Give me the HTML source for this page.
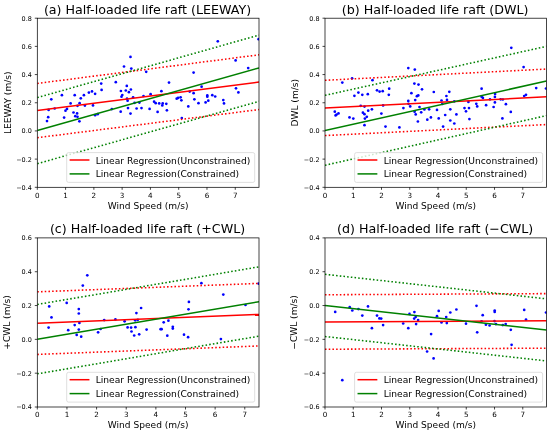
<!DOCTYPE html>
<html lang="en"><head><meta charset="utf-8"><title>Half-loaded life raft leeway regression</title>
<style>html,body{margin:0;padding:0;background:#fff;}svg{display:block;}text{font-family:"DejaVu Sans","Liberation Sans",sans-serif;fill:#000;}</style></head><body>
<svg width="550" height="432" viewBox="0 0 550 432">
<rect x="0" y="0" width="550" height="432" fill="#ffffff"/>
<g id="panel-a">
<clipPath id="clipa"><rect x="37.3" y="18.2" width="221.7" height="169.1"/></clipPath>
<g clip-path="url(#clipa)" fill="#0000ff">
<circle cx="130.5" cy="56.9" r="1.35"/>
<circle cx="124.0" cy="66.5" r="1.35"/>
<circle cx="131.3" cy="68.6" r="1.35"/>
<circle cx="146.2" cy="71.8" r="1.35"/>
<circle cx="101.2" cy="83.6" r="1.35"/>
<circle cx="115.8" cy="82.2" r="1.35"/>
<circle cx="126.8" cy="85.9" r="1.35"/>
<circle cx="101.6" cy="89.9" r="1.35"/>
<circle cx="120.9" cy="91.0" r="1.35"/>
<circle cx="125.8" cy="90.5" r="1.35"/>
<circle cx="130.9" cy="89.5" r="1.35"/>
<circle cx="128.9" cy="92.2" r="1.35"/>
<circle cx="92.0" cy="91.4" r="1.35"/>
<circle cx="88.9" cy="92.6" r="1.35"/>
<circle cx="95.1" cy="93.8" r="1.35"/>
<circle cx="83.9" cy="95.2" r="1.35"/>
<circle cx="74.7" cy="95.2" r="1.35"/>
<circle cx="61.9" cy="95.2" r="1.35"/>
<circle cx="80.8" cy="98.3" r="1.35"/>
<circle cx="51.3" cy="99.3" r="1.35"/>
<circle cx="122.3" cy="95.0" r="1.35"/>
<circle cx="121.5" cy="96.7" r="1.35"/>
<circle cx="133.1" cy="97.3" r="1.35"/>
<circle cx="143.5" cy="96.0" r="1.35"/>
<circle cx="127.0" cy="98.7" r="1.35"/>
<circle cx="127.6" cy="100.7" r="1.35"/>
<circle cx="70.6" cy="103.4" r="1.35"/>
<circle cx="79.6" cy="103.2" r="1.35"/>
<circle cx="139.4" cy="102.6" r="1.35"/>
<circle cx="134.6" cy="102.8" r="1.35"/>
<circle cx="77.5" cy="105.8" r="1.35"/>
<circle cx="84.9" cy="105.6" r="1.35"/>
<circle cx="93.0" cy="105.4" r="1.35"/>
<circle cx="54.7" cy="108.5" r="1.35"/>
<circle cx="48.6" cy="109.9" r="1.35"/>
<circle cx="67.0" cy="108.9" r="1.35"/>
<circle cx="65.5" cy="110.7" r="1.35"/>
<circle cx="128.0" cy="108.1" r="1.35"/>
<circle cx="136.6" cy="108.5" r="1.35"/>
<circle cx="141.5" cy="108.1" r="1.35"/>
<circle cx="111.8" cy="109.1" r="1.35"/>
<circle cx="120.7" cy="111.7" r="1.35"/>
<circle cx="73.5" cy="112.5" r="1.35"/>
<circle cx="77.1" cy="113.4" r="1.35"/>
<circle cx="130.5" cy="113.6" r="1.35"/>
<circle cx="95.1" cy="115.2" r="1.35"/>
<circle cx="97.7" cy="114.2" r="1.35"/>
<circle cx="75.3" cy="116.2" r="1.35"/>
<circle cx="77.5" cy="116.8" r="1.35"/>
<circle cx="64.1" cy="117.6" r="1.35"/>
<circle cx="48.2" cy="117.2" r="1.35"/>
<circle cx="47.0" cy="121.1" r="1.35"/>
<circle cx="79.4" cy="121.3" r="1.35"/>
<circle cx="217.8" cy="41.3" r="1.35"/>
<circle cx="258.6" cy="39.2" r="1.35"/>
<circle cx="235.6" cy="60.4" r="1.35"/>
<circle cx="248.2" cy="68.1" r="1.35"/>
<circle cx="193.6" cy="72.6" r="1.35"/>
<circle cx="169.0" cy="82.6" r="1.35"/>
<circle cx="201.6" cy="86.7" r="1.35"/>
<circle cx="236.0" cy="88.3" r="1.35"/>
<circle cx="238.4" cy="92.4" r="1.35"/>
<circle cx="161.4" cy="91.2" r="1.35"/>
<circle cx="150.6" cy="94.2" r="1.35"/>
<circle cx="189.7" cy="91.6" r="1.35"/>
<circle cx="193.6" cy="93.2" r="1.35"/>
<circle cx="207.3" cy="95.4" r="1.35"/>
<circle cx="207.3" cy="96.7" r="1.35"/>
<circle cx="212.3" cy="95.2" r="1.35"/>
<circle cx="215.2" cy="96.5" r="1.35"/>
<circle cx="180.6" cy="97.3" r="1.35"/>
<circle cx="178.1" cy="97.9" r="1.35"/>
<circle cx="176.7" cy="98.7" r="1.35"/>
<circle cx="181.4" cy="100.3" r="1.35"/>
<circle cx="194.4" cy="99.3" r="1.35"/>
<circle cx="223.3" cy="100.1" r="1.35"/>
<circle cx="224.0" cy="103.4" r="1.35"/>
<circle cx="208.3" cy="100.7" r="1.35"/>
<circle cx="205.6" cy="102.4" r="1.35"/>
<circle cx="198.5" cy="103.2" r="1.35"/>
<circle cx="154.1" cy="101.7" r="1.35"/>
<circle cx="155.7" cy="103.2" r="1.35"/>
<circle cx="159.2" cy="103.4" r="1.35"/>
<circle cx="162.7" cy="103.4" r="1.35"/>
<circle cx="166.3" cy="103.8" r="1.35"/>
<circle cx="162.3" cy="105.4" r="1.35"/>
<circle cx="188.3" cy="106.4" r="1.35"/>
<circle cx="149.6" cy="108.9" r="1.35"/>
<circle cx="166.9" cy="110.3" r="1.35"/>
<circle cx="157.6" cy="111.9" r="1.35"/>
<circle cx="181.8" cy="118.0" r="1.35"/>
</g>
<g clip-path="url(#clipa)" fill="none">
<line x1="37.30" y1="110.55" x2="259.00" y2="82.05" stroke="#ff0000" stroke-width="1.50"/>
<line x1="37.30" y1="130.50" x2="259.00" y2="67.85" stroke="#008000" stroke-width="1.50"/>
<line x1="37.30" y1="83.45" x2="259.00" y2="54.80" stroke="#ff0000" stroke-width="1.55" stroke-dasharray="1.55 2.16"/>
<line x1="37.30" y1="137.70" x2="259.00" y2="109.55" stroke="#ff0000" stroke-width="1.55" stroke-dasharray="1.55 2.16"/>
<line x1="37.30" y1="97.60" x2="259.00" y2="35.15" stroke="#008000" stroke-width="1.55" stroke-dasharray="1.55 2.16"/>
<line x1="37.30" y1="163.65" x2="259.00" y2="101.30" stroke="#008000" stroke-width="1.55" stroke-dasharray="1.55 2.16"/>
</g>
<rect x="37.30" y="18.20" width="221.70" height="169.10" fill="none" stroke="#000" stroke-width="0.73"/>
<g stroke="#000" stroke-width="0.73">
<line x1="37.30" y1="187.30" x2="37.30" y2="189.80"/>
<line x1="65.58" y1="187.30" x2="65.58" y2="189.80"/>
<line x1="93.86" y1="187.30" x2="93.86" y2="189.80"/>
<line x1="122.13" y1="187.30" x2="122.13" y2="189.80"/>
<line x1="150.41" y1="187.30" x2="150.41" y2="189.80"/>
<line x1="178.69" y1="187.30" x2="178.69" y2="189.80"/>
<line x1="206.97" y1="187.30" x2="206.97" y2="189.80"/>
<line x1="235.25" y1="187.30" x2="235.25" y2="189.80"/>
<line x1="34.80" y1="187.30" x2="37.30" y2="187.30"/>
<line x1="34.80" y1="159.12" x2="37.30" y2="159.12"/>
<line x1="34.80" y1="130.93" x2="37.30" y2="130.93"/>
<line x1="34.80" y1="102.75" x2="37.30" y2="102.75"/>
<line x1="34.80" y1="74.57" x2="37.30" y2="74.57"/>
<line x1="34.80" y1="46.38" x2="37.30" y2="46.38"/>
<line x1="34.80" y1="18.20" x2="37.30" y2="18.20"/>
</g>
<g font-size="6.45">
<text x="37.30" y="197.60" text-anchor="middle" font-size="7.2">0</text>
<text x="65.58" y="197.60" text-anchor="middle" font-size="7.2">1</text>
<text x="93.86" y="197.60" text-anchor="middle" font-size="7.2">2</text>
<text x="122.13" y="197.60" text-anchor="middle" font-size="7.2">3</text>
<text x="150.41" y="197.60" text-anchor="middle" font-size="7.2">4</text>
<text x="178.69" y="197.60" text-anchor="middle" font-size="7.2">5</text>
<text x="206.97" y="197.60" text-anchor="middle" font-size="7.2">6</text>
<text x="235.25" y="197.60" text-anchor="middle" font-size="7.2">7</text>
<text x="31.80" y="189.69" text-anchor="end">−0.4</text>
<text x="31.80" y="161.50" text-anchor="end">−0.2</text>
<text x="31.80" y="133.32" text-anchor="end">0.0</text>
<text x="31.80" y="105.14" text-anchor="end">0.2</text>
<text x="31.80" y="76.95" text-anchor="end">0.4</text>
<text x="31.80" y="48.77" text-anchor="end">0.6</text>
<text x="31.80" y="20.59" text-anchor="end">0.8</text>
</g>
<text x="147.55" y="13.70" text-anchor="middle" font-size="12.66">(a) Half-loaded life raft (LEEWAY)</text>
<text x="148.15" y="208.60" text-anchor="middle" font-size="9.07">Wind Speed (m/s)</text>
<text transform="translate(10.80 102.75) rotate(-90)" text-anchor="middle" font-size="9.07">LEEWAY (m/s)</text>
<rect x="66.70" y="152.60" width="188.00" height="29.80" rx="1.83" ry="1.83" fill="#ffffff" fill-opacity="0.8" stroke="#d4d4d4" stroke-opacity="0.8" stroke-width="0.92"/>
<line x1="70.37" y1="160.00" x2="88.70" y2="160.00" stroke="#ff0000" stroke-width="1.50" stroke-linecap="square"/>
<line x1="70.37" y1="173.90" x2="88.70" y2="173.90" stroke="#008000" stroke-width="1.50" stroke-linecap="square"/>
<text x="95.73" y="163.50" font-size="9.14">Linear Regression(Unconstrained)</text>
<text x="95.73" y="177.00" font-size="9.14">Linear Regression(Constrained)</text>
</g>
<g id="panel-b">
<clipPath id="clipb"><rect x="325" y="18.2" width="221.5" height="169.1"/></clipPath>
<g clip-path="url(#clipb)" fill="#0000ff">
<circle cx="408.3" cy="68.1" r="1.35"/>
<circle cx="414.8" cy="69.6" r="1.35"/>
<circle cx="352.1" cy="78.3" r="1.35"/>
<circle cx="342.3" cy="82.6" r="1.35"/>
<circle cx="372.5" cy="80.2" r="1.35"/>
<circle cx="414.4" cy="83.6" r="1.35"/>
<circle cx="418.5" cy="84.6" r="1.35"/>
<circle cx="422.0" cy="89.3" r="1.35"/>
<circle cx="389.2" cy="88.7" r="1.35"/>
<circle cx="377.0" cy="90.3" r="1.35"/>
<circle cx="379.6" cy="91.6" r="1.35"/>
<circle cx="382.7" cy="91.2" r="1.35"/>
<circle cx="358.4" cy="92.6" r="1.35"/>
<circle cx="362.3" cy="94.8" r="1.35"/>
<circle cx="367.8" cy="94.2" r="1.35"/>
<circle cx="354.4" cy="95.8" r="1.35"/>
<circle cx="388.8" cy="94.8" r="1.35"/>
<circle cx="411.4" cy="93.2" r="1.35"/>
<circle cx="418.3" cy="95.4" r="1.35"/>
<circle cx="416.9" cy="96.2" r="1.35"/>
<circle cx="433.8" cy="92.0" r="1.35"/>
<circle cx="415.2" cy="100.1" r="1.35"/>
<circle cx="408.3" cy="100.9" r="1.35"/>
<circle cx="408.5" cy="103.8" r="1.35"/>
<circle cx="360.7" cy="105.8" r="1.35"/>
<circle cx="364.5" cy="106.6" r="1.35"/>
<circle cx="383.1" cy="105.4" r="1.35"/>
<circle cx="410.2" cy="106.4" r="1.35"/>
<circle cx="419.5" cy="107.0" r="1.35"/>
<circle cx="403.4" cy="108.1" r="1.35"/>
<circle cx="371.9" cy="109.3" r="1.35"/>
<circle cx="368.2" cy="110.7" r="1.35"/>
<circle cx="424.4" cy="109.5" r="1.35"/>
<circle cx="429.1" cy="109.3" r="1.35"/>
<circle cx="334.8" cy="111.7" r="1.35"/>
<circle cx="338.5" cy="113.4" r="1.35"/>
<circle cx="335.6" cy="115.4" r="1.35"/>
<circle cx="336.6" cy="114.6" r="1.35"/>
<circle cx="362.9" cy="112.7" r="1.35"/>
<circle cx="364.5" cy="114.2" r="1.35"/>
<circle cx="381.4" cy="113.6" r="1.35"/>
<circle cx="414.6" cy="111.7" r="1.35"/>
<circle cx="415.7" cy="114.4" r="1.35"/>
<circle cx="421.2" cy="112.3" r="1.35"/>
<circle cx="349.5" cy="117.4" r="1.35"/>
<circle cx="353.3" cy="118.6" r="1.35"/>
<circle cx="366.8" cy="116.8" r="1.35"/>
<circle cx="364.9" cy="118.6" r="1.35"/>
<circle cx="430.9" cy="117.4" r="1.35"/>
<circle cx="427.3" cy="119.7" r="1.35"/>
<circle cx="417.9" cy="121.5" r="1.35"/>
<circle cx="364.5" cy="125.2" r="1.35"/>
<circle cx="385.5" cy="126.6" r="1.35"/>
<circle cx="399.4" cy="127.4" r="1.35"/>
<circle cx="523.6" cy="67.1" r="1.35"/>
<circle cx="481.6" cy="88.7" r="1.35"/>
<circle cx="449.3" cy="91.8" r="1.35"/>
<circle cx="536.2" cy="88.1" r="1.35"/>
<circle cx="546.0" cy="88.5" r="1.35"/>
<circle cx="524.2" cy="96.0" r="1.35"/>
<circle cx="526.0" cy="94.8" r="1.35"/>
<circle cx="446.4" cy="96.0" r="1.35"/>
<circle cx="495.1" cy="94.0" r="1.35"/>
<circle cx="494.9" cy="96.9" r="1.35"/>
<circle cx="481.6" cy="96.7" r="1.35"/>
<circle cx="482.9" cy="97.9" r="1.35"/>
<circle cx="441.5" cy="100.5" r="1.35"/>
<circle cx="447.0" cy="99.9" r="1.35"/>
<circle cx="490.0" cy="99.3" r="1.35"/>
<circle cx="500.6" cy="99.3" r="1.35"/>
<circle cx="502.8" cy="99.5" r="1.35"/>
<circle cx="454.3" cy="101.3" r="1.35"/>
<circle cx="468.4" cy="101.9" r="1.35"/>
<circle cx="442.3" cy="104.0" r="1.35"/>
<circle cx="494.9" cy="102.4" r="1.35"/>
<circle cx="476.3" cy="103.8" r="1.35"/>
<circle cx="477.2" cy="106.4" r="1.35"/>
<circle cx="486.1" cy="105.2" r="1.35"/>
<circle cx="505.9" cy="104.2" r="1.35"/>
<circle cx="493.6" cy="107.0" r="1.35"/>
<circle cx="437.0" cy="109.9" r="1.35"/>
<circle cx="450.3" cy="109.3" r="1.35"/>
<circle cx="464.5" cy="108.1" r="1.35"/>
<circle cx="469.0" cy="108.1" r="1.35"/>
<circle cx="466.0" cy="111.3" r="1.35"/>
<circle cx="510.8" cy="111.9" r="1.35"/>
<circle cx="456.4" cy="114.4" r="1.35"/>
<circle cx="445.2" cy="115.0" r="1.35"/>
<circle cx="438.7" cy="118.4" r="1.35"/>
<circle cx="469.4" cy="119.1" r="1.35"/>
<circle cx="502.4" cy="118.4" r="1.35"/>
<circle cx="450.3" cy="120.5" r="1.35"/>
<circle cx="454.3" cy="123.5" r="1.35"/>
<circle cx="443.1" cy="126.6" r="1.35"/>
<circle cx="511.3" cy="47.8" r="1.35"/>
</g>
<g clip-path="url(#clipb)" fill="none">
<line x1="325.00" y1="108.10" x2="546.50" y2="96.80" stroke="#ff0000" stroke-width="1.50"/>
<line x1="325.00" y1="130.60" x2="546.50" y2="81.00" stroke="#008000" stroke-width="1.50"/>
<line x1="325.00" y1="80.30" x2="546.50" y2="69.07" stroke="#ff0000" stroke-width="1.55" stroke-dasharray="1.55 2.16"/>
<line x1="325.00" y1="135.58" x2="546.50" y2="124.55" stroke="#ff0000" stroke-width="1.55" stroke-dasharray="1.55 2.16"/>
<line x1="325.00" y1="95.35" x2="546.50" y2="46.38" stroke="#008000" stroke-width="1.55" stroke-dasharray="1.55 2.16"/>
<line x1="325.00" y1="165.25" x2="546.50" y2="115.60" stroke="#008000" stroke-width="1.55" stroke-dasharray="1.55 2.16"/>
</g>
<rect x="325.00" y="18.20" width="221.50" height="169.10" fill="none" stroke="#000" stroke-width="0.73"/>
<g stroke="#000" stroke-width="0.73">
<line x1="325.00" y1="187.30" x2="325.00" y2="189.80"/>
<line x1="353.25" y1="187.30" x2="353.25" y2="189.80"/>
<line x1="381.51" y1="187.30" x2="381.51" y2="189.80"/>
<line x1="409.76" y1="187.30" x2="409.76" y2="189.80"/>
<line x1="438.01" y1="187.30" x2="438.01" y2="189.80"/>
<line x1="466.26" y1="187.30" x2="466.26" y2="189.80"/>
<line x1="494.52" y1="187.30" x2="494.52" y2="189.80"/>
<line x1="522.77" y1="187.30" x2="522.77" y2="189.80"/>
<line x1="322.50" y1="187.30" x2="325.00" y2="187.30"/>
<line x1="322.50" y1="159.12" x2="325.00" y2="159.12"/>
<line x1="322.50" y1="130.93" x2="325.00" y2="130.93"/>
<line x1="322.50" y1="102.75" x2="325.00" y2="102.75"/>
<line x1="322.50" y1="74.57" x2="325.00" y2="74.57"/>
<line x1="322.50" y1="46.38" x2="325.00" y2="46.38"/>
<line x1="322.50" y1="18.20" x2="325.00" y2="18.20"/>
</g>
<g font-size="6.45">
<text x="325.00" y="197.60" text-anchor="middle" font-size="7.2">0</text>
<text x="353.25" y="197.60" text-anchor="middle" font-size="7.2">1</text>
<text x="381.51" y="197.60" text-anchor="middle" font-size="7.2">2</text>
<text x="409.76" y="197.60" text-anchor="middle" font-size="7.2">3</text>
<text x="438.01" y="197.60" text-anchor="middle" font-size="7.2">4</text>
<text x="466.26" y="197.60" text-anchor="middle" font-size="7.2">5</text>
<text x="494.52" y="197.60" text-anchor="middle" font-size="7.2">6</text>
<text x="522.77" y="197.60" text-anchor="middle" font-size="7.2">7</text>
<text x="319.50" y="189.69" text-anchor="end">−0.4</text>
<text x="319.50" y="161.50" text-anchor="end">−0.2</text>
<text x="319.50" y="133.32" text-anchor="end">0.0</text>
<text x="319.50" y="105.14" text-anchor="end">0.2</text>
<text x="319.50" y="76.95" text-anchor="end">0.4</text>
<text x="319.50" y="48.77" text-anchor="end">0.6</text>
<text x="319.50" y="20.59" text-anchor="end">0.8</text>
</g>
<text x="435.15" y="13.70" text-anchor="middle" font-size="12.66">(b) Half-loaded life raft (DWL)</text>
<text x="435.75" y="208.60" text-anchor="middle" font-size="9.07">Wind Speed (m/s)</text>
<text transform="translate(297.70 102.75) rotate(-90)" text-anchor="middle" font-size="9.07">DWL (m/s)</text>
<rect x="354.60" y="152.60" width="188.00" height="29.80" rx="1.83" ry="1.83" fill="#ffffff" fill-opacity="0.8" stroke="#d4d4d4" stroke-opacity="0.8" stroke-width="0.92"/>
<line x1="358.27" y1="160.00" x2="376.60" y2="160.00" stroke="#ff0000" stroke-width="1.50" stroke-linecap="square"/>
<line x1="358.27" y1="173.90" x2="376.60" y2="173.90" stroke="#008000" stroke-width="1.50" stroke-linecap="square"/>
<text x="383.63" y="163.50" font-size="9.14">Linear Regression(Unconstrained)</text>
<text x="383.63" y="177.00" font-size="9.14">Linear Regression(Constrained)</text>
</g>
<g id="panel-c">
<clipPath id="clipc"><rect x="37.3" y="237.9" width="221.7" height="169.1"/></clipPath>
<g clip-path="url(#clipc)" fill="#0000ff">
<circle cx="87.3" cy="275.3" r="1.35"/>
<circle cx="82.8" cy="285.6" r="1.35"/>
<circle cx="66.7" cy="302.9" r="1.35"/>
<circle cx="49.2" cy="306.4" r="1.35"/>
<circle cx="78.8" cy="309.1" r="1.35"/>
<circle cx="78.8" cy="313.5" r="1.35"/>
<circle cx="141.1" cy="308.0" r="1.35"/>
<circle cx="136.4" cy="313.1" r="1.35"/>
<circle cx="51.5" cy="317.4" r="1.35"/>
<circle cx="104.2" cy="320.1" r="1.35"/>
<circle cx="115.4" cy="319.4" r="1.35"/>
<circle cx="124.6" cy="321.3" r="1.35"/>
<circle cx="135.2" cy="320.3" r="1.35"/>
<circle cx="137.8" cy="319.8" r="1.35"/>
<circle cx="79.4" cy="322.9" r="1.35"/>
<circle cx="74.7" cy="325.1" r="1.35"/>
<circle cx="48.6" cy="327.6" r="1.35"/>
<circle cx="127.6" cy="327.4" r="1.35"/>
<circle cx="131.1" cy="327.6" r="1.35"/>
<circle cx="135.4" cy="327.2" r="1.35"/>
<circle cx="68.2" cy="330.2" r="1.35"/>
<circle cx="78.8" cy="329.6" r="1.35"/>
<circle cx="100.6" cy="329.0" r="1.35"/>
<circle cx="146.6" cy="329.6" r="1.35"/>
<circle cx="98.1" cy="332.3" r="1.35"/>
<circle cx="131.5" cy="331.5" r="1.35"/>
<circle cx="76.7" cy="334.9" r="1.35"/>
<circle cx="81.2" cy="336.7" r="1.35"/>
<circle cx="134.2" cy="335.5" r="1.35"/>
<circle cx="139.2" cy="334.3" r="1.35"/>
<circle cx="201.4" cy="283.2" r="1.35"/>
<circle cx="258.6" cy="283.6" r="1.35"/>
<circle cx="223.3" cy="294.6" r="1.35"/>
<circle cx="188.9" cy="301.9" r="1.35"/>
<circle cx="188.5" cy="309.3" r="1.35"/>
<circle cx="245.5" cy="305.0" r="1.35"/>
<circle cx="168.4" cy="320.7" r="1.35"/>
<circle cx="163.7" cy="322.3" r="1.35"/>
<circle cx="172.8" cy="326.8" r="1.35"/>
<circle cx="172.8" cy="328.6" r="1.35"/>
<circle cx="160.6" cy="329.2" r="1.35"/>
<circle cx="161.6" cy="329.2" r="1.35"/>
<circle cx="167.3" cy="335.7" r="1.35"/>
<circle cx="184.0" cy="334.7" r="1.35"/>
<circle cx="188.1" cy="337.2" r="1.35"/>
<circle cx="220.9" cy="339.1" r="1.35"/>
</g>
<g clip-path="url(#clipc)" fill="none">
<line x1="37.30" y1="323.13" x2="259.00" y2="314.40" stroke="#ff0000" stroke-width="1.50"/>
<line x1="37.30" y1="339.36" x2="259.00" y2="301.65" stroke="#008000" stroke-width="1.50"/>
<line x1="37.30" y1="291.84" x2="259.00" y2="283.39" stroke="#ff0000" stroke-width="1.55" stroke-dasharray="1.55 2.16"/>
<line x1="37.30" y1="354.41" x2="259.00" y2="345.95" stroke="#ff0000" stroke-width="1.55" stroke-dasharray="1.55 2.16"/>
<line x1="37.30" y1="304.46" x2="259.00" y2="266.85" stroke="#008000" stroke-width="1.55" stroke-dasharray="1.55 2.16"/>
<line x1="37.30" y1="373.86" x2="259.00" y2="336.15" stroke="#008000" stroke-width="1.55" stroke-dasharray="1.55 2.16"/>
</g>
<rect x="37.30" y="237.90" width="221.70" height="169.10" fill="none" stroke="#000" stroke-width="0.73"/>
<g stroke="#000" stroke-width="0.73">
<line x1="37.30" y1="407.00" x2="37.30" y2="409.50"/>
<line x1="66.94" y1="407.00" x2="66.94" y2="409.50"/>
<line x1="96.58" y1="407.00" x2="96.58" y2="409.50"/>
<line x1="126.22" y1="407.00" x2="126.22" y2="409.50"/>
<line x1="155.86" y1="407.00" x2="155.86" y2="409.50"/>
<line x1="185.50" y1="407.00" x2="185.50" y2="409.50"/>
<line x1="215.13" y1="407.00" x2="215.13" y2="409.50"/>
<line x1="244.77" y1="407.00" x2="244.77" y2="409.50"/>
<line x1="34.80" y1="407.00" x2="37.30" y2="407.00"/>
<line x1="34.80" y1="373.18" x2="37.30" y2="373.18"/>
<line x1="34.80" y1="339.36" x2="37.30" y2="339.36"/>
<line x1="34.80" y1="305.54" x2="37.30" y2="305.54"/>
<line x1="34.80" y1="271.72" x2="37.30" y2="271.72"/>
<line x1="34.80" y1="237.90" x2="37.30" y2="237.90"/>
</g>
<g font-size="6.45">
<text x="37.30" y="417.30" text-anchor="middle" font-size="7.2">0</text>
<text x="66.94" y="417.30" text-anchor="middle" font-size="7.2">1</text>
<text x="96.58" y="417.30" text-anchor="middle" font-size="7.2">2</text>
<text x="126.22" y="417.30" text-anchor="middle" font-size="7.2">3</text>
<text x="155.86" y="417.30" text-anchor="middle" font-size="7.2">4</text>
<text x="185.50" y="417.30" text-anchor="middle" font-size="7.2">5</text>
<text x="215.13" y="417.30" text-anchor="middle" font-size="7.2">6</text>
<text x="244.77" y="417.30" text-anchor="middle" font-size="7.2">7</text>
<text x="31.80" y="409.39" text-anchor="end">−0.4</text>
<text x="31.80" y="375.57" text-anchor="end">−0.2</text>
<text x="31.80" y="341.75" text-anchor="end">0.0</text>
<text x="31.80" y="307.93" text-anchor="end">0.2</text>
<text x="31.80" y="274.11" text-anchor="end">0.4</text>
<text x="31.80" y="240.29" text-anchor="end">0.6</text>
</g>
<text x="147.55" y="233.40" text-anchor="middle" font-size="12.66">(c) Half-loaded life raft (+CWL)</text>
<text x="148.15" y="428.30" text-anchor="middle" font-size="9.07">Wind Speed (m/s)</text>
<text transform="translate(10.45 322.45) rotate(-90)" text-anchor="middle" font-size="9.07">+CWL (m/s)</text>
<rect x="66.70" y="372.30" width="188.00" height="29.80" rx="1.83" ry="1.83" fill="#ffffff" fill-opacity="0.8" stroke="#d4d4d4" stroke-opacity="0.8" stroke-width="0.92"/>
<line x1="70.37" y1="379.70" x2="88.70" y2="379.70" stroke="#ff0000" stroke-width="1.50" stroke-linecap="square"/>
<line x1="70.37" y1="393.60" x2="88.70" y2="393.60" stroke="#008000" stroke-width="1.50" stroke-linecap="square"/>
<text x="95.73" y="383.20" font-size="9.14">Linear Regression(Unconstrained)</text>
<text x="95.73" y="396.70" font-size="9.14">Linear Regression(Constrained)</text>
</g>
<g id="panel-d">
<clipPath id="clipd"><rect x="325" y="237.9" width="221.5" height="169.1"/></clipPath>
<g clip-path="url(#clipd)" fill="#0000ff">
<circle cx="335.2" cy="311.9" r="1.35"/>
<circle cx="349.7" cy="307.2" r="1.35"/>
<circle cx="352.3" cy="310.5" r="1.35"/>
<circle cx="358.4" cy="309.1" r="1.35"/>
<circle cx="368.0" cy="306.4" r="1.35"/>
<circle cx="362.3" cy="315.6" r="1.35"/>
<circle cx="377.0" cy="315.6" r="1.35"/>
<circle cx="379.4" cy="318.4" r="1.35"/>
<circle cx="381.2" cy="318.6" r="1.35"/>
<circle cx="371.9" cy="328.2" r="1.35"/>
<circle cx="383.1" cy="325.1" r="1.35"/>
<circle cx="403.2" cy="323.5" r="1.35"/>
<circle cx="408.3" cy="328.2" r="1.35"/>
<circle cx="409.5" cy="313.9" r="1.35"/>
<circle cx="414.4" cy="312.1" r="1.35"/>
<circle cx="415.7" cy="317.0" r="1.35"/>
<circle cx="414.2" cy="318.6" r="1.35"/>
<circle cx="418.1" cy="320.1" r="1.35"/>
<circle cx="416.1" cy="324.1" r="1.35"/>
<circle cx="431.1" cy="334.1" r="1.35"/>
<circle cx="427.1" cy="351.5" r="1.35"/>
<circle cx="433.6" cy="358.4" r="1.35"/>
<circle cx="342.3" cy="380.2" r="1.35"/>
<circle cx="476.5" cy="305.8" r="1.35"/>
<circle cx="456.4" cy="309.5" r="1.35"/>
<circle cx="438.7" cy="310.9" r="1.35"/>
<circle cx="450.3" cy="312.5" r="1.35"/>
<circle cx="494.7" cy="310.5" r="1.35"/>
<circle cx="494.7" cy="311.9" r="1.35"/>
<circle cx="524.2" cy="309.9" r="1.35"/>
<circle cx="546.0" cy="312.5" r="1.35"/>
<circle cx="437.0" cy="316.2" r="1.35"/>
<circle cx="446.2" cy="317.0" r="1.35"/>
<circle cx="482.7" cy="315.2" r="1.35"/>
<circle cx="526.0" cy="319.6" r="1.35"/>
<circle cx="441.5" cy="322.5" r="1.35"/>
<circle cx="446.8" cy="323.1" r="1.35"/>
<circle cx="481.6" cy="321.3" r="1.35"/>
<circle cx="494.5" cy="321.1" r="1.35"/>
<circle cx="466.0" cy="323.7" r="1.35"/>
<circle cx="485.9" cy="324.7" r="1.35"/>
<circle cx="489.6" cy="325.5" r="1.35"/>
<circle cx="495.9" cy="324.1" r="1.35"/>
<circle cx="502.8" cy="325.1" r="1.35"/>
<circle cx="505.7" cy="324.1" r="1.35"/>
<circle cx="510.8" cy="329.8" r="1.35"/>
<circle cx="477.2" cy="332.3" r="1.35"/>
<circle cx="511.6" cy="344.8" r="1.35"/>
</g>
<g clip-path="url(#clipd)" fill="none">
<line x1="325.00" y1="322.10" x2="546.50" y2="320.79" stroke="#ff0000" stroke-width="1.50"/>
<line x1="325.00" y1="305.54" x2="546.50" y2="329.97" stroke="#008000" stroke-width="1.50"/>
<line x1="325.00" y1="294.75" x2="546.50" y2="293.60" stroke="#ff0000" stroke-width="1.55" stroke-dasharray="1.55 2.16"/>
<line x1="325.00" y1="349.25" x2="546.50" y2="348.19" stroke="#ff0000" stroke-width="1.55" stroke-dasharray="1.55 2.16"/>
<line x1="325.00" y1="274.30" x2="546.50" y2="298.85" stroke="#008000" stroke-width="1.55" stroke-dasharray="1.55 2.16"/>
<line x1="325.00" y1="336.49" x2="546.50" y2="360.92" stroke="#008000" stroke-width="1.55" stroke-dasharray="1.55 2.16"/>
</g>
<rect x="325.00" y="237.90" width="221.50" height="169.10" fill="none" stroke="#000" stroke-width="0.73"/>
<g stroke="#000" stroke-width="0.73">
<line x1="325.00" y1="407.00" x2="325.00" y2="409.50"/>
<line x1="353.25" y1="407.00" x2="353.25" y2="409.50"/>
<line x1="381.51" y1="407.00" x2="381.51" y2="409.50"/>
<line x1="409.76" y1="407.00" x2="409.76" y2="409.50"/>
<line x1="438.01" y1="407.00" x2="438.01" y2="409.50"/>
<line x1="466.26" y1="407.00" x2="466.26" y2="409.50"/>
<line x1="494.52" y1="407.00" x2="494.52" y2="409.50"/>
<line x1="522.77" y1="407.00" x2="522.77" y2="409.50"/>
<line x1="322.50" y1="407.00" x2="325.00" y2="407.00"/>
<line x1="322.50" y1="373.18" x2="325.00" y2="373.18"/>
<line x1="322.50" y1="339.36" x2="325.00" y2="339.36"/>
<line x1="322.50" y1="305.54" x2="325.00" y2="305.54"/>
<line x1="322.50" y1="271.72" x2="325.00" y2="271.72"/>
<line x1="322.50" y1="237.90" x2="325.00" y2="237.90"/>
</g>
<g font-size="6.45">
<text x="325.00" y="417.30" text-anchor="middle" font-size="7.2">0</text>
<text x="353.25" y="417.30" text-anchor="middle" font-size="7.2">1</text>
<text x="381.51" y="417.30" text-anchor="middle" font-size="7.2">2</text>
<text x="409.76" y="417.30" text-anchor="middle" font-size="7.2">3</text>
<text x="438.01" y="417.30" text-anchor="middle" font-size="7.2">4</text>
<text x="466.26" y="417.30" text-anchor="middle" font-size="7.2">5</text>
<text x="494.52" y="417.30" text-anchor="middle" font-size="7.2">6</text>
<text x="522.77" y="417.30" text-anchor="middle" font-size="7.2">7</text>
<text x="319.50" y="409.39" text-anchor="end">−0.6</text>
<text x="319.50" y="375.57" text-anchor="end">−0.4</text>
<text x="319.50" y="341.75" text-anchor="end">−0.2</text>
<text x="319.50" y="307.93" text-anchor="end">0.0</text>
<text x="319.50" y="274.11" text-anchor="end">0.2</text>
<text x="319.50" y="240.29" text-anchor="end">0.4</text>
</g>
<text x="435.15" y="233.40" text-anchor="middle" font-size="12.66">(d) Half-loaded life raft (−CWL)</text>
<text x="435.75" y="428.30" text-anchor="middle" font-size="9.07">Wind Speed (m/s)</text>
<text transform="translate(296.90 322.45) rotate(-90)" text-anchor="middle" font-size="9.07">−CWL (m/s)</text>
<rect x="354.60" y="372.30" width="188.00" height="29.80" rx="1.83" ry="1.83" fill="#ffffff" fill-opacity="0.8" stroke="#d4d4d4" stroke-opacity="0.8" stroke-width="0.92"/>
<line x1="358.27" y1="379.70" x2="376.60" y2="379.70" stroke="#ff0000" stroke-width="1.50" stroke-linecap="square"/>
<line x1="358.27" y1="393.60" x2="376.60" y2="393.60" stroke="#008000" stroke-width="1.50" stroke-linecap="square"/>
<text x="383.63" y="383.20" font-size="9.14">Linear Regression(Unconstrained)</text>
<text x="383.63" y="396.70" font-size="9.14">Linear Regression(Constrained)</text>
</g>
</svg></body></html>
